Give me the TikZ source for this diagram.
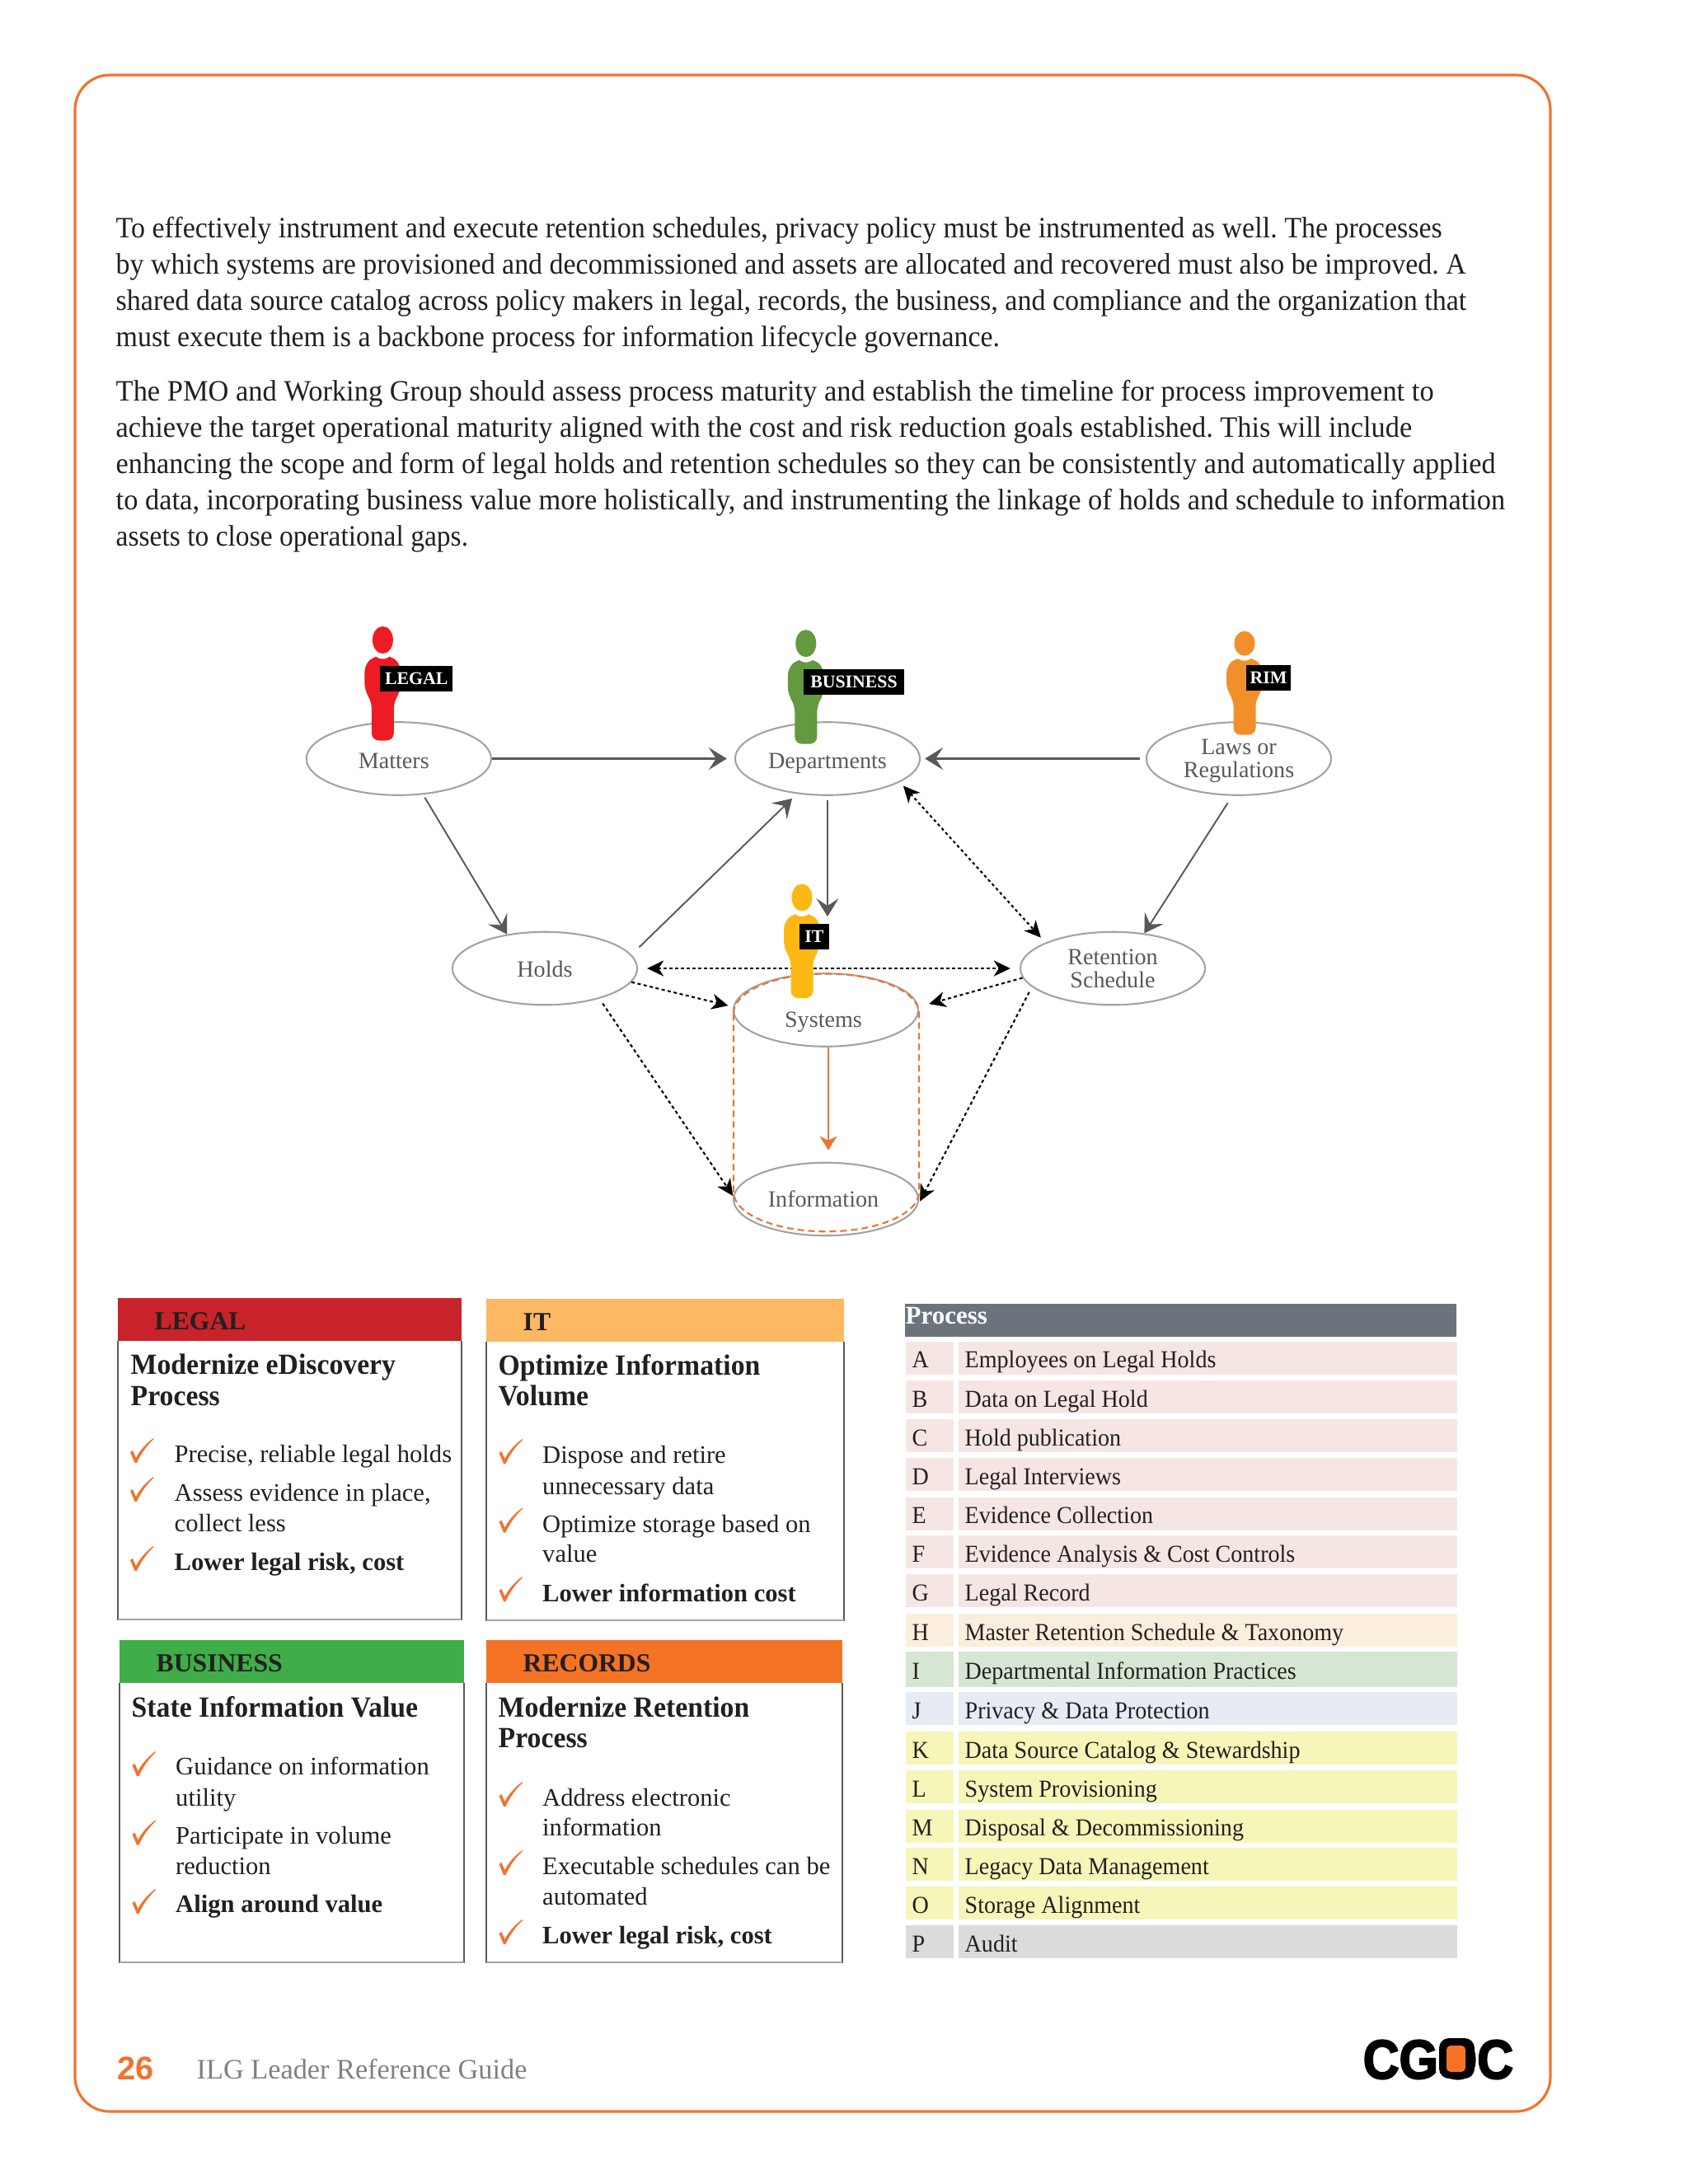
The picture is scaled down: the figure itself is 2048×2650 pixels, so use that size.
\documentclass[tikz,border=0pt]{standalone}
\usepackage{fontspec}
\setmainfont{Liberation Serif}
\setsansfont{Liberation Sans}
\newfontfamily\tightfont[FakeStretch=.95]{Liberation Serif}
\newfontfamily\logofont[FakeBold=3]{Liberation Sans Bold}
\usetikzlibrary{arrows.meta,shapes.geometric}
\frenchspacing
\definecolor{ink}{HTML}{231F20}
\definecolor{slate}{HTML}{58595B}
\definecolor{edge}{HTML}{A3A3A5}
\definecolor{recs}{HTML}{EE7430}
\definecolor{legalred}{HTML}{ED1C24}
\definecolor{bizgreen}{HTML}{63993F}
\definecolor{rimorange}{HTML}{F1902A}
\definecolor{itgold}{HTML}{FDB813}
\definecolor{headred}{HTML}{C8232A}
\definecolor{headgold}{HTML}{FDB863}
\definecolor{headgreen}{HTML}{3FAE49}
\definecolor{headorange}{HTML}{F47325}
\definecolor{headslate}{HTML}{6B747C}
\definecolor{rowpink}{HTML}{F5E6E4}
\definecolor{rowpeach}{HTML}{FCEEDD}
\definecolor{rowgreen}{HTML}{D5E7D3}
\definecolor{rowblue}{HTML}{E6EBF4}
\definecolor{rowyellow}{HTML}{F5F6B8}
\definecolor{rowgrey}{HTML}{DCDBDC}
\tikzset{bodyline/.style={anchor=base west,inner sep=0,text=ink,font=\fontsize{10.2}{12}\tightfont},
stage/.style={draw=edge,line width=.6pt,ellipse,fill=white,minimum width=2.24cm,minimum height=.885cm,inner sep=0,align=center,text=slate,text height=.29cm,text depth=.05cm,font=\fontsize{8}{7.9}\selectfont},
twoline/.style={text height=.51cm},
tagbox/.style={fill=black,text=white,inner sep=0,minimum height=.31cm,font=\fontsize{6.2}{7}\selectfont\bfseries},
solidarr/.style={-{Stealth[length=.22cm,width=.27cm,inset=.09cm]},slate,line width=.7pt},
dotarr/.style={{Stealth[length=.2cm,width=.19cm,inset=.06cm]}-{Stealth[length=.2cm,width=.19cm,inset=.06cm]},black,line width=.6pt,dash pattern=on .035cm off .035cm},
dotone/.style={-{Stealth[length=.2cm,width=.19cm,inset=.06cm]},black,line width=.6pt,dash pattern=on .04cm off .035cm},
panelhead/.style={anchor=base west,inner sep=0,text=ink,font=\fontsize{9}{11}\selectfont\bfseries},
paneltitle/.style={anchor=base west,inner sep=0,yshift=-.11cm,text=ink,font=\fontsize{10.1}{12}\tightfont\bfseries},
panelline/.style={anchor=base west,inner sep=0,yshift=-.1cm,text=ink,font=\fontsize{8.7}{11}\selectfont},
panelbold/.style={panelline,font=\fontsize{8.7}{11}\selectfont\bfseries},
rowkey/.style={anchor=west,inner sep=0,inner xsep=.08cm,minimum width=.58cm,minimum height=.4cm,text height=.28cm,text depth=.04cm,text=ink,font=\fontsize{8.4}{11}\tightfont},
person/.pic={\fill[rounded corners=2.5pt] (-10,19) -- (10,19) -- (22,30) -- (22,62) -- (13.5,74) -- (13.5,122) -- (-13.5,122) -- (-13.5,74) -- (-22,62) -- (-22,30) -- cycle;
\fill[white] (0,4) ellipse (.15cm and .19cm);\fill (0,0) ellipse (.125cm and .165cm);},
tick/.pic={\fill[recs] (0,17) -- (3,15) -- (7,24) .. controls (12,14) and (20,6) .. (28,0) -- (28.5,1) .. controls (20,9) and (13,19) .. (8,30) -- (5.5,30) -- cycle;}}
\newcommand{\infoframe}[6]{\draw[slate,line width=.5pt] (#1,#3) -- (#1,#4) -- (#2,#4) -- (#2,#3);
\draw[edge,line width=.7pt] (#1,#4) -- (#2,#4);
\fill[#5] (#1,#3-52) rectangle (#2,#3);
\node[panelhead] (head#6) at (#1+44,#3-13.5) {#6};}
\begin{document}
\begin{tikzpicture}[x=.01cm,y=-.01cm]
\useasboundingbox (0,0) rectangle (2048,2650);
\draw[recs,line width=.9pt,rounded corners=.42cm] (91,91) rectangle (1881,2562);
\foreach \y/\sx/\txt [count=\i] in {288/.998/{To effectively instrument and execute retention schedules, privacy policy must be instrumented as well. The processes},
332/.996/{by which systems are provisioned and decommissioned and assets are allocated and recovered must also be improved. A},
376/.999/{shared data source catalog across policy makers in legal, records, the business, and compliance and the organization that},
420/.995/{must execute them is a backbone process for information lifecycle governance.},
486/1.011/{The PMO and Working Group should assess process maturity and establish the timeline for process improvement to},
530/1.008/{achieve the target operational maturity aligned with the cost and risk reduction goals established. This will include},
574/1.005/{enhancing the scope and form of legal holds and retention schedules so they can be consistently and automatically applied},
618/1.011/{to data, incorporating business value more holistically, and instrumenting the linkage of holds and schedule to information},
662/.984/{assets to close operational gaps.}}
\node[bodyline] (line\i) at (140,\y) {\scalebox{\sx}[1]{\txt}};
\node[stage] (matters) at (483.8,920.5) {Matters\hspace{.12cm}};
\node[stage] (departments) at (1004,920.5) {Departments};
\node[stage,twoline] (laws) at (1503,920.5) {Laws or\\Regulations};
\node[stage,text height=.25cm] (holds) at (661,1175) {Holds};
\node[stage,twoline] (retention) at (1350,1175) {Retention\\Schedule};
\node[stage,text height=.46cm] (systems) at (1002,1225.5) {Systems\hspace{.06cm}};
\node[stage,text height=.23cm] (information) at (1002,1455) {Information\hspace{.06cm}};
\draw[recs,line width=.6pt,dash pattern=on .08cm off .05cm] (890,1229.5) arc (180:360:112.5 and 48) -- (1115,1446.3) arc (0:180:112.5 and 48) -- cycle;
\draw[solidarr] (matters.east) -- (departments.west) [shorten >=.09cm];
\draw[solidarr] (laws.west) [shorten <=.07cm,shorten >=.05cm] -- (departments.east);
\draw[solidarr,line width=.55pt] (matters.-56) [shorten <=.04cm] -- (holds.138);
\draw[solidarr,line width=.55pt] (holds.9) [shorten <=.13cm,shorten >=.08cm] -- (departments.-131);
\draw[solidarr,line width=.55pt] (departments.south) [shorten <=.05cm,shorten >=.68cm] -- (departments.south |- systems.north);
\draw[solidarr,line width=.55pt] (laws.-100) [shorten <=.1cm] -- (retention.48);
\draw[dotarr] (departments.-18) [shorten <=.06cm,shorten >=.08cm] -- (retention.159);
\draw[dotarr,line width=.8pt] (holds.east) [shorten <=.11cm,shorten >=.11cm] -- (retention.west);
\draw[dotone] (holds.-9) -- (systems.178) [shorten >=.06cm];
\draw[dotone] (retention.186) -- (systems.2) [shorten >=.13cm];
\draw[dotone] (holds.-29) [shorten <=.07cm] -- (information.178);
\draw[dotone] (retention.193) [shorten <=.07cm,shorten >=.1cm] -- (information.-6);
\draw[-{Stealth[length=.17cm,width=.21cm,inset=.05cm]},recs,line width=.6pt] ([xshift=.03cm]systems.south) [shorten >=.14cm] -- ([xshift=.03cm]information.north);
\pic[legalred] at (464.4,776.5) {person};
\pic[bizgreen] at (977.8,780.7) {person};
\pic[rimorange,yscale=.91] at (1510,780.7) {person};
\pic[itgold] at (973,1089) {person};
\node[tagbox,minimum width=.875cm] (taglegal) at (505.2,823) {LEGAL};
\node[tagbox,minimum width=1.21cm] (tagbiz) at (1036,827) {BUSINESS};
\node[tagbox,minimum width=.54cm] (tagrim) at (1539,822.5) {RIM};
\node[tagbox,minimum width=.35cm] (tagit) at (988,1136.5) {IT};
\infoframe{143}{560}{1626.6}{1965}{headred}{LEGAL}
\infoframe{590}{1024}{1627.6}{1966}{headgold}{IT}
\infoframe{145}{563}{2042.4}{2381}{headgreen}{BUSINESS}
\infoframe{590}{1022}{2042.4}{2381}{headorange}{RECORDS}
\foreach \y/\txt in {1656.5/Modernize eDiscovery,1694/Process} \node[paneltitle] (legalt\y) at (158,\y) {\txt};
\foreach \y/\txt in {1764/{Precise, reliable legal holds},1811/{Assess evidence in place,},1848.5/collect less} \node[panelline] (legall\y) at (211,\y) {\txt};
\node[panelbold] (legalb) at (211,1895) {Lower legal risk, cost};
\foreach \y in {1745,1792,1876} \pic at (158,\y) {tick};
\foreach \y/\txt in {1657.5/Optimize Information,1694/Volume} \node[paneltitle] (itt\y) at (604,\y) {\txt};
\foreach \y/\txt in {1765/Dispose and retire,1803/unnecessary data,1849.5/Optimize storage based on,1885/value} \node[panelline] (itl\y) at (657.5,\y) {\txt};
\node[panelbold] (itb) at (657.5,1933) {Lower information cost};
\foreach \y in {1746,1829.5,1913} \pic at (605.5,\y) {tick};
\node[paneltitle] (bizt) at (159,2072) {State Information Value};
\foreach \y/\txt in {2143/Guidance on information,2181/utility,2227.5/Participate in volume,2264/reduction} \node[panelline] (bizl\y) at (212.5,\y) {\txt};
\node[panelbold] (bizb) at (212.5,2310) {Align around value};
\foreach \y in {2125,2208.5,2292} \pic at (160.5,\y) {tick};
\foreach \y/\txt in {2072/Modernize Retention,2109/Process} \node[paneltitle] (recst\y) at (604,\y) {\txt};
\foreach \y/\txt in {2181/Address electronic,2217.5/information,2264/Executable schedules can be,2301/automated} \node[panelline] (recsl\y) at (657.5,\y) {\txt};
\node[panelbold] (recsb) at (657.5,2348) {Lower legal risk, cost};
\foreach \y in {2162,2245,2329} \pic at (605.5,\y) {tick};
\fill[headslate] (1098,1582) rectangle (1766.5,1622);
\node[anchor=base west,inner sep=0,text=white,font=\fontsize{8.8}{11}\selectfont\bfseries] (processhead) at (1098,1606) {Process};
\foreach \y/\k/\txt/\c in {1647.5/A/Employees on Legal Holds/rowpink,1695/B/Data on Legal Hold/rowpink,1742/C/Hold publication/rowpink,1789/D/Legal Interviews/rowpink,1836.5/E/Evidence Collection/rowpink,1883/F/Evidence Analysis \& Cost Controls/rowpink,1930/G/Legal Record/rowpink,1978/H/Master Retention Schedule \& Taxonomy/rowpeach,2073/J/Privacy \& Data Protection/rowblue,2121/K/Data Source Catalog \& Stewardship/rowyellow,2168/L/System Provisioning/rowyellow,2215.5/M/Disposal \& Decommissioning/rowyellow,2262/N/Legacy Data Management/rowyellow,2309/O/Storage Alignment/rowyellow,2356/P/Audit/rowgrey}{
\node[rowkey,fill=\c] (key\k) at (1098,\y) {\makebox[.42cm][l]{\k}};
\node[rowkey,fill=\c] (row\k) at (1162,\y) {\makebox[5.885cm][l]{\txt}};}
\node[rowkey,fill=rowgreen,minimum height=.43cm] (keyI) at (1098,2025.5) {\makebox[.42cm][l]{I}};
\node[rowkey,fill=rowgreen,minimum height=.43cm] (rowI) at (1162,2025.5) {\makebox[5.885cm][l]{Departmental Information Practices}};
\node[anchor=base west,inner sep=0,text=recs,font=\fontsize{11.3}{13}\selectfont\sffamily\bfseries] (pagenum) at (142,2523) {26};
\node[anchor=base west,inner sep=0,text=gray,font=\fontsize{9.75}{12}\selectfont] (guide) at (238,2522) {ILG Leader Reference Guide};
\node[anchor=base west,inner sep=0,text=black,font=\fontsize{19}{20}\logofont] (logo) at (1653,2522) {\scalebox{.91}[1]{CGOC}};
\fill[black,rounded corners=.12cm] (1746,2473) rectangle (1789,2522);
\fill[headorange,rounded corners=.05cm] (1755,2482) rectangle (1778,2514);
\end{tikzpicture}
\end{document}
